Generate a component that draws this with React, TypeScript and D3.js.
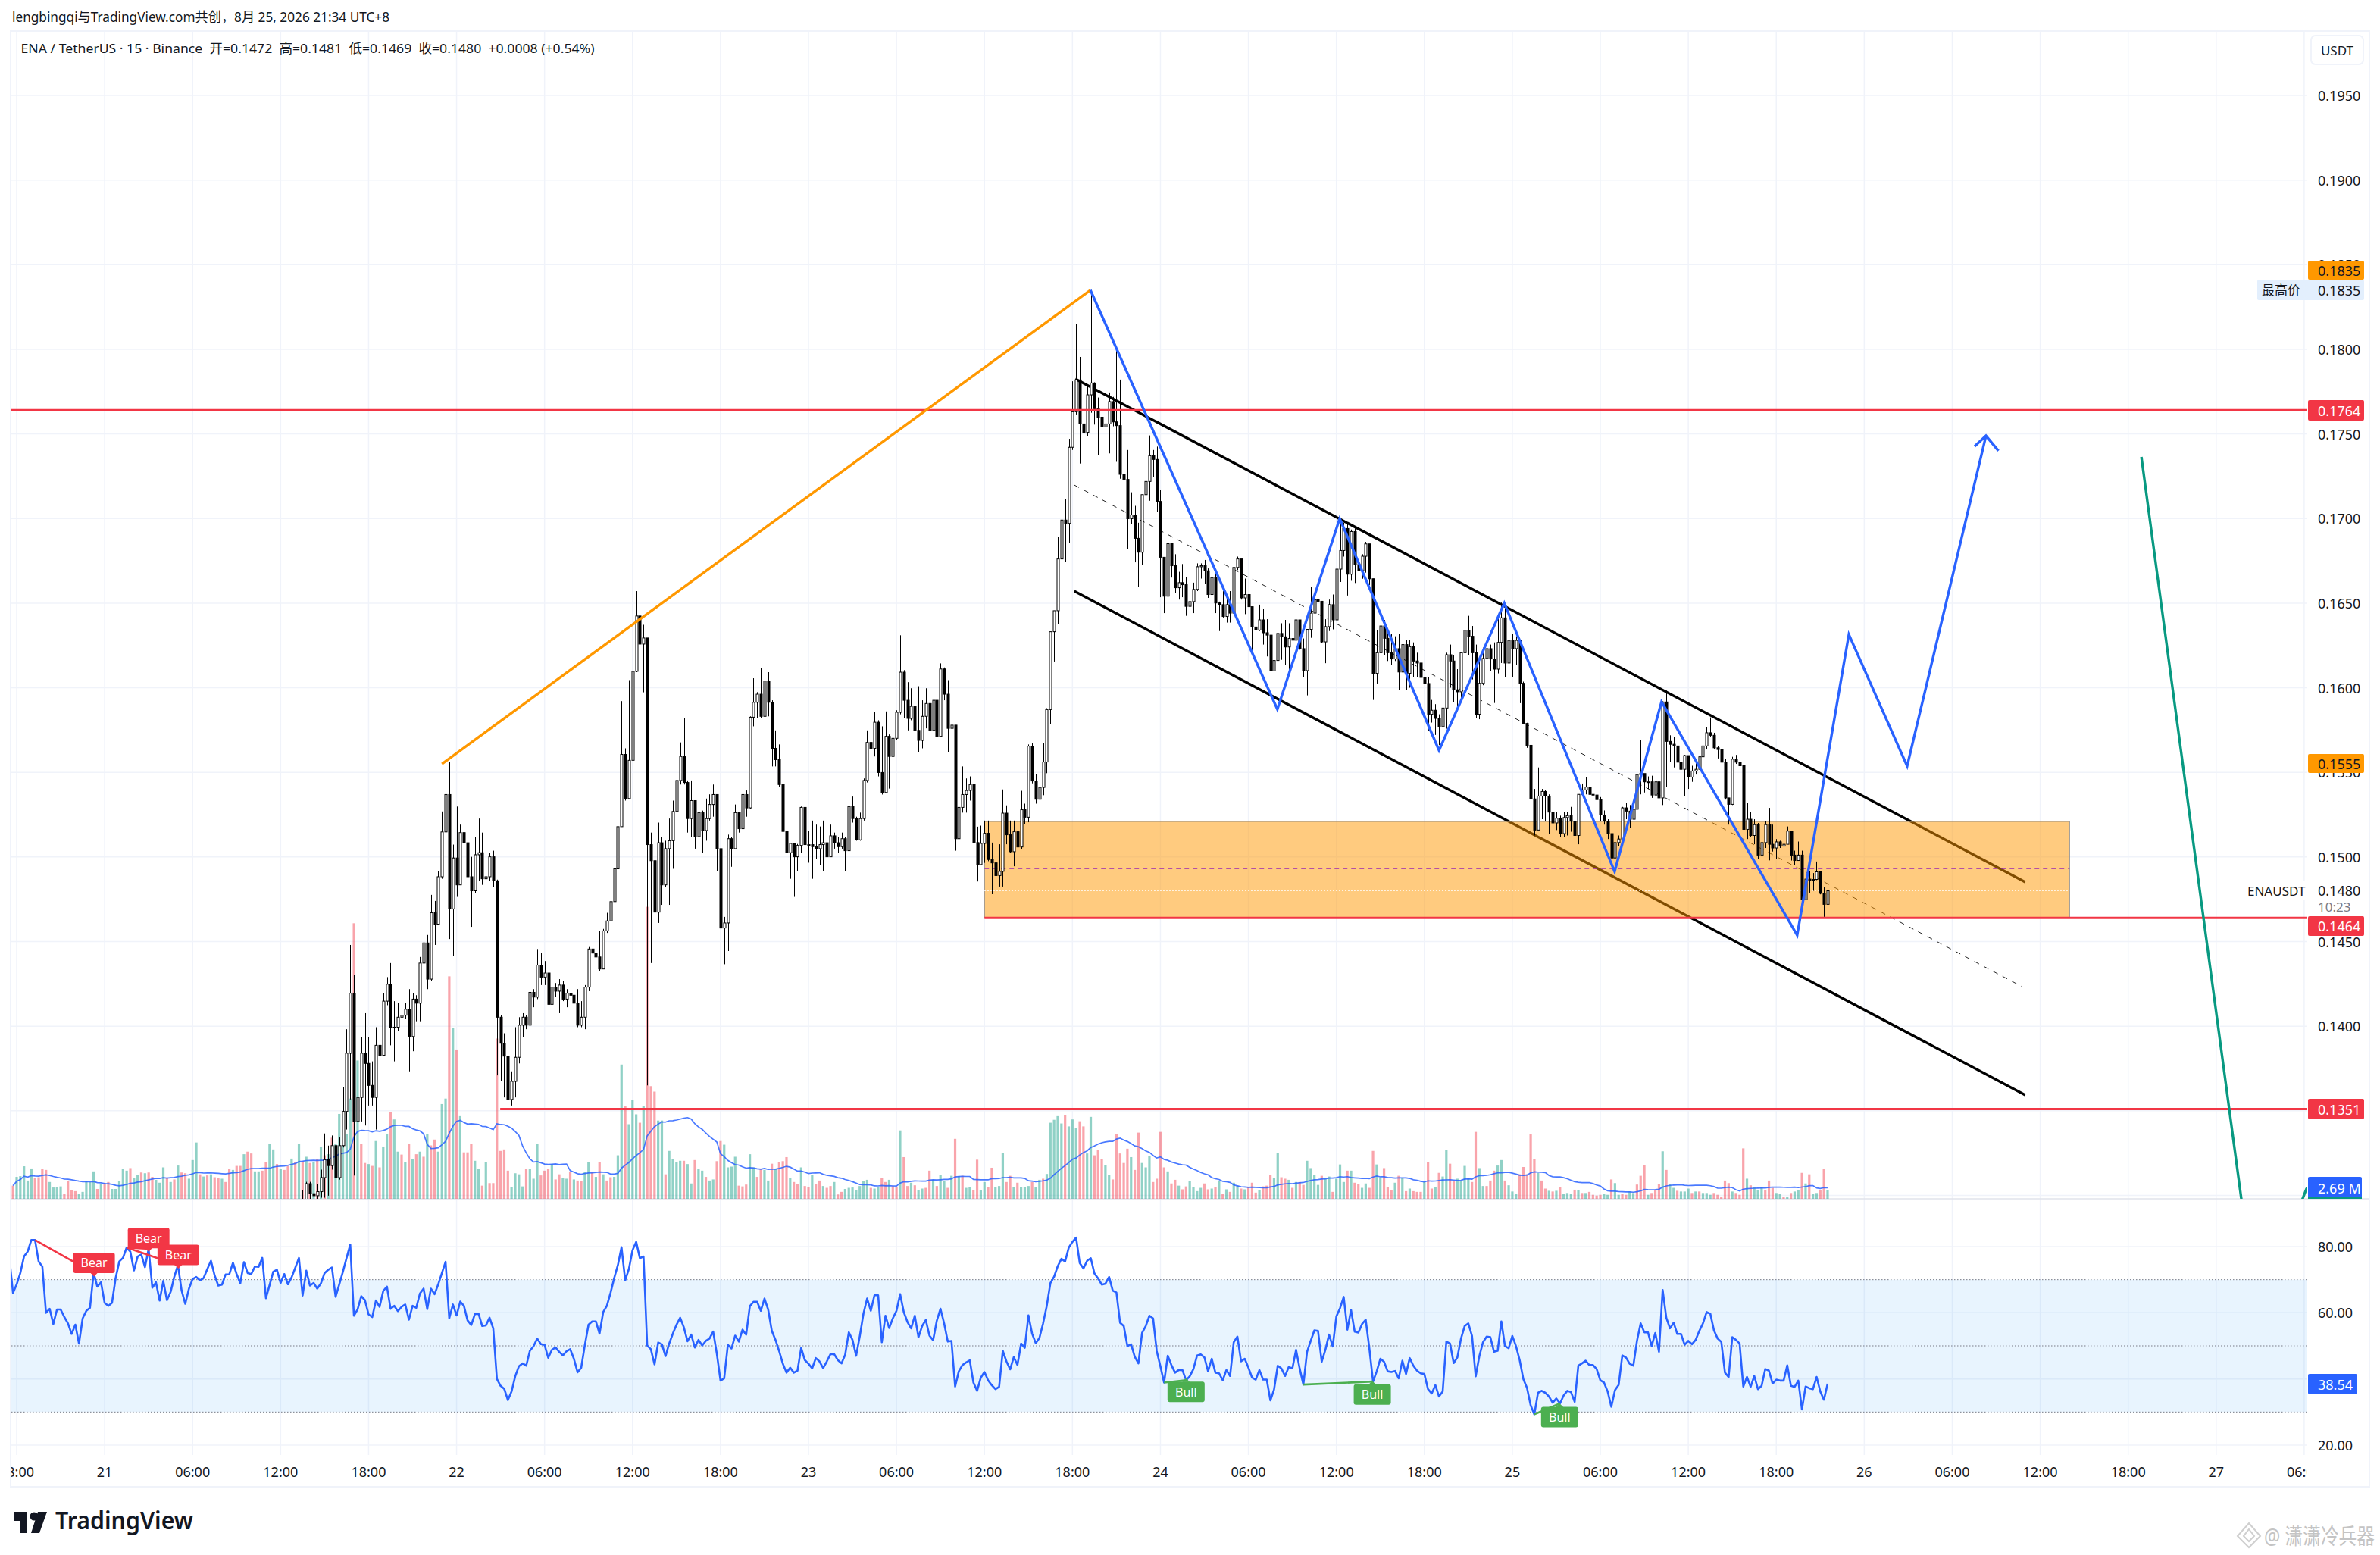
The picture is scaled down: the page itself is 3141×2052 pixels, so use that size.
import React from "react";
import * as d3 from "d3";

// prices are in 1/10000 USDT, bar index 0 is Aug 20 18:00, one bar is 15 minutes
const priceTicks = [1950, 1900, 1850, 1800, 1750, 1700, 1650, 1600, 1550, 1500, 1450, 1400, 1350, 1300];
const priceTickLabels = ["0.1950", "0.1900", "0.1850", "0.1800", "0.1750", "0.1700", "0.1650", "0.1600", "0.1550", "0.1500", "0.1450", "0.1400", "0.1350", ""];
const timeLabels = [
  "18:00", "21", "06:00", "12:00", "18:00", "22", "06:00", "12:00", "18:00", "23", "06:00", "12:00", "18:00",
  "24", "06:00", "12:00", "18:00", "25", "06:00", "12:00", "18:00", "26", "06:00", "12:00", "18:00", "27", "06:00",
];
const rsiTicks = [80, 60, 40, 20];
const rsiBands = [70, 50, 30];

// candles start at bar 78, everything older is under the pane
const firstCandle = 78;
const closes = [
  1297.7, 1306.9, 1301, 1299.8, 1302.2, 1310.5, 1321.1, 1317.6, 1329.4, 1310.5,
  1329.4, 1349.6, 1384, 1419.5, 1343.7, 1357.9, 1384, 1378, 1365, 1357.9,
  1388.7, 1382.8, 1414.8, 1424.8, 1399.4, 1399.4, 1405.3, 1406.5, 1410, 1393.9,
  1416, 1413.6, 1437.3, 1449.2, 1427.8, 1467, 1460.3, 1488.3, 1514.8, 1536.9,
  1469.3, 1499.4, 1483.5, 1514.4, 1508.4, 1488.3, 1480, 1501.3, 1502.5, 1487.1,
  1488.3, 1500.1, 1485.9, 1405.3, 1389.9, 1382.3, 1356.7, 1367.4, 1381.6, 1400.6,
  1405.3, 1400.6, 1420, 1417.2, 1436.1, 1429, 1431.4, 1412.9, 1423.1, 1420.7,
  1424.3, 1416, 1419.5, 1418.3, 1413.6, 1400.6, 1405.3, 1423.1, 1445.6, 1443.2,
  1440.9, 1433.8, 1456.3, 1462.2, 1473.6, 1493, 1517.9, 1560.6, 1534.5, 1557.1,
  1609.7, 1642.4, 1625.8, 1629.4, 1507.3, 1497.8, 1467.4, 1508.4, 1483.5, 1504.9,
  1509.6, 1526.9, 1545.2, 1559.4, 1544, 1522.7, 1533.3, 1512, 1526.2, 1515.6,
  1522.7, 1531, 1536.9, 1504.9, 1458, 1461, 1510.8, 1504.9, 1526.2, 1516.7,
  1536.9, 1529, 1582.6, 1591.4, 1596.2, 1583.1, 1604, 1591.4, 1564.2, 1557.5,
  1542.8, 1515.1, 1502.5, 1508, 1500.1, 1506.8, 1529.3, 1507.3, 1507.3, 1506.1,
  1504.9, 1507.3, 1508.4, 1500.1, 1512.5, 1508.4, 1506.1, 1510.8, 1503.7, 1529.8,
  1522.7, 1510.1, 1522.7, 1545.2, 1567.7, 1564.2, 1579.6, 1549.9, 1538.1, 1571.3,
  1559.4, 1570.1, 1585.5, 1609.2, 1592.6, 1581.9, 1589, 1574.8, 1568.9, 1583.1,
  1590.7, 1574.8, 1592.6, 1571.3, 1611.1, 1596.2, 1576, 1577.9, 1510.8, 1529.3,
  1536.9, 1539.3, 1542.8, 1508.5, 1495.5, 1508, 1514, 1498.5, 1496.5, 1489,
  1491.5, 1525.9, 1513.1, 1503.1, 1514.9, 1505.9, 1527.9, 1523.5, 1565.5, 1544.9,
  1534.1, 1541.1, 1556.1, 1587.1, 1633.1, 1645.5, 1676.1, 1699.1, 1697.1, 1742.1,
  1763.1, 1781.9, 1755.9, 1750.9, 1773.1, 1780.1, 1764.9, 1759.9, 1754.1, 1755.9,
  1769.1, 1757.1, 1754.9, 1726.1, 1723.1, 1699.9, 1702.1, 1688.3, 1680.1, 1714.1,
  1721.9, 1737.1, 1734.9, 1710.1, 1677.1, 1654.1, 1685.1, 1672.1, 1659.1, 1662.1,
  1660.9, 1648.1, 1650.9, 1658.1, 1671.5, 1672.1, 1669.1, 1655.1, 1665.1, 1650.1,
  1649.1, 1642.1, 1649.1, 1644.1, 1671.1, 1676.1, 1653.1, 1655.1, 1647.9, 1635.9,
  1634.1, 1640.1, 1632.5, 1631.1, 1609.9, 1616.1, 1632.1, 1630.1, 1624.1, 1629.1,
  1628.1, 1640.1, 1623.1, 1610.1, 1634.5, 1644.1, 1652.1, 1651.1, 1627.1, 1636.1,
  1649.1, 1640.1, 1670.1, 1681.1, 1694.1, 1667.1, 1692.3, 1672.9, 1669.2, 1677.7,
  1685, 1664.4, 1608.5, 1620.7, 1636.5, 1629.2, 1620.7, 1617, 1623.1, 1609.3,
  1625.5, 1608.5, 1624.3, 1615.8, 1614.6, 1606.1, 1602.5, 1584.3, 1586.7, 1581.9,
  1577, 1588, 1619.5, 1615.8, 1598.8, 1597.6, 1620.7, 1634, 1630.4, 1620.7,
  1584.3, 1602.6, 1617.3, 1623.1, 1617, 1611, 1626.8, 1641.3, 1614.6, 1628,
  1623.1, 1628, 1602.6, 1578.9, 1566, 1534.3, 1515.9, 1536, 1538.7, 1536,
  1526.5, 1520.1, 1522.9, 1513.8, 1523.3, 1524.4, 1521.2, 1512.7, 1537, 1539.6,
  1541.3, 1537, 1536.6, 1533.9, 1524.8, 1521.2, 1513.8, 1499.4, 1508.5, 1510.6,
  1529, 1527.1, 1522.3, 1528.2, 1548.7, 1549.3, 1544.4, 1544.4, 1536.6, 1544.4,
  1534.9, 1591.6, 1568.3, 1566.6, 1565.6, 1556, 1551.8, 1559.9, 1547.2, 1550.8,
  1551.8, 1559.2, 1565.6, 1573.4, 1571.9, 1564.5, 1563.5, 1556, 1534.9, 1531.1,
  1557.8, 1556, 1553.9, 1516.3, 1522.3, 1512.7, 1519.1, 1501.1, 1508.5, 1519.1,
  1507.5, 1505.3, 1508.9, 1506.4, 1507.5, 1515.3, 1501.1, 1497.9, 1501.1, 1474.7,
  1486.9, 1486.3, 1486.7, 1491.2, 1478.5, 1472, 1480,
];
const highs = [
  1303.3, 1308, 1308, 1303.4, 1306.9, 1315.2, 1336.6, 1329.4, 1335.4, 1348.4,
  1334.2, 1363.8, 1398.2, 1448, 1430.2, 1360.3, 1393.4, 1407.7, 1393.4, 1379.2,
  1399.4, 1400.6, 1419.5, 1429, 1437.3, 1414.8, 1413.6, 1413.6, 1413.6, 1421.9,
  1419.5, 1418.3, 1440.9, 1453.9, 1453.9, 1477.6, 1474, 1491.8, 1526.9, 1548.3,
  1555.9, 1507.3, 1529.8, 1519.1, 1522.7, 1508.4, 1500.1, 1512, 1522.7, 1514.4,
  1500.1, 1502.5, 1503.7, 1486.6, 1406.5, 1395.8, 1387.5, 1373.3, 1399.4, 1405.3,
  1407.7, 1406.5, 1426.6, 1421.9, 1445.6, 1443.2, 1438.5, 1439.7, 1430.2, 1425.5,
  1427.8, 1426.6, 1421.9, 1434.9, 1420.7, 1421.9, 1414.8, 1424.3, 1446.8, 1446.8,
  1457.5, 1456.3, 1457.5, 1467, 1478.8, 1498.9, 1519.1, 1592.1, 1564.2, 1604.5,
  1619.9, 1657.1, 1650.7, 1637.2, 1628.2, 1514.4, 1520.3, 1520.3, 1512, 1509.6,
  1522.7, 1533.3, 1568.9, 1567.7, 1581.9, 1545.2, 1545.2, 1533.3, 1538.1, 1527.4,
  1534.5, 1537, 1542.8, 1536.9, 1504.9, 1464.6, 1513.2, 1512, 1531, 1526.2,
  1540.4, 1539.3, 1583.1, 1605.6, 1597.4, 1611.6, 1612, 1609.2, 1592.6, 1574.8,
  1566.5, 1542.8, 1515.6, 1508.4, 1506.8, 1507.7, 1529.8, 1533.3, 1515.6, 1521.5,
  1519.1, 1518, 1521.5, 1514.4, 1519.1, 1514.4, 1512, 1514.4, 1512, 1536.9,
  1535.7, 1523.8, 1526.2, 1546.4, 1574.8, 1584.3, 1585.5, 1580.8, 1577.2, 1586,
  1572.4, 1583.1, 1586.7, 1631, 1610.4, 1603.3, 1599.7, 1598.5, 1600.9, 1592.6,
  1599.7, 1593.8, 1595, 1593.8, 1614.4, 1612, 1604.5, 1583.1, 1577.9, 1529.8,
  1553.5, 1546.4, 1547.6, 1547.5, 1517.9, 1518.5, 1521.5, 1521.5, 1508.5, 1498,
  1507.5, 1539.9, 1530.5, 1521.5, 1521.5, 1530.5, 1539.1, 1531.5, 1566.5, 1567.1,
  1549.1, 1545.1, 1567.1, 1587.9, 1633.1, 1645.5, 1689.1, 1703.9, 1711.5, 1747.1,
  1781.1, 1814.9, 1795.5, 1761.5, 1778.5, 1835, 1780.5, 1771.5, 1774.5, 1783.5,
  1774.5, 1771.9, 1800.3, 1782.1, 1745.1, 1740.5, 1715.5, 1707.5, 1697.5, 1714.1,
  1733.9, 1749.1, 1740.5, 1742.5, 1717.1, 1676.1, 1692.1, 1685.5, 1678.9, 1668.5,
  1673.1, 1665.5, 1660.1, 1662.1, 1673.5, 1673.5, 1675.5, 1670.5, 1669.5, 1668.5,
  1650.9, 1657.1, 1654.5, 1657.1, 1671.1, 1677.5, 1675.5, 1664.5, 1662.5, 1647.1,
  1641.9, 1649.1, 1646.5, 1640.5, 1637.1, 1621.9, 1632.1, 1638.1, 1640.1, 1638.1,
  1633.5, 1642.5, 1640.1, 1629.1, 1634.5, 1659.5, 1662.5, 1655.1, 1650.1, 1640.5,
  1652.1, 1655.1, 1674.1, 1698.5, 1697.5, 1697.5, 1693.5, 1694.2, 1680.2, 1678.9,
  1686.2, 1683.8, 1664.4, 1634, 1641.3, 1640.1, 1634, 1631.6, 1630.4, 1631.6,
  1634, 1628, 1628, 1626.8, 1620.7, 1615.8, 1611, 1606.1, 1592.8, 1590.3,
  1584.3, 1590.3, 1620.7, 1625.5, 1619.5, 1611, 1620.7, 1640.1, 1642.5, 1636.5,
  1625.5, 1615.2, 1623.7, 1628, 1625.5, 1626.8, 1641.3, 1650.3, 1649.8, 1641.3,
  1631.6, 1630.4, 1621.9, 1603.6, 1579.3, 1573, 1540.2, 1552.9, 1540.2, 1539.6,
  1537, 1531.8, 1526.5, 1524.4, 1526.5, 1526.5, 1529.6, 1527.5, 1537, 1543.4,
  1547.2, 1544.4, 1544.4, 1537.5, 1535.4, 1527.5, 1522.3, 1518, 1509.6, 1512.7,
  1529.6, 1531.8, 1530.7, 1531.8, 1563.5, 1569.2, 1548.7, 1547.6, 1548, 1548,
  1547.6, 1592, 1598.3, 1571.9, 1570.9, 1566.6, 1560.3, 1560.3, 1552.9, 1553.9,
  1556, 1559.2, 1567.7, 1576.8, 1582.5, 1573.4, 1565.6, 1559.2, 1557.8, 1534.9,
  1559.2, 1560.3, 1566.2, 1555, 1531.8, 1526.5, 1522.3, 1520.1, 1512.7, 1521.2,
  1529, 1519.1, 1510.6, 1509.6, 1509.6, 1518, 1515.5, 1503.7, 1509.1, 1503.7,
  1492.7, 1491.6, 1490.5, 1497.3, 1491.6, 1482, 1481,
];
const lows = [
  1296.3, 1296, 1296, 1296, 1296, 1298.6, 1298.6, 1299.8, 1315.2, 1301,
  1309.3, 1328.3, 1338.9, 1356.7, 1311.7, 1338.9, 1343.7, 1341.3, 1353.1, 1353.1,
  1338.9, 1381.6, 1382.8, 1412.4, 1388.7, 1379.2, 1397, 1389.9, 1404.1, 1373.3,
  1385.2, 1402.9, 1402.9, 1436.1, 1421.9, 1426.6, 1448, 1459.8, 1487.1, 1514.4,
  1451.5, 1441.6, 1476.4, 1483.5, 1500.1, 1476.4, 1458.7, 1478.8, 1485.9, 1483.5,
  1468.1, 1485.9, 1482.4, 1370.9, 1367.4, 1357.9, 1350.8, 1353.1, 1357.9, 1378,
  1393.5, 1398.2, 1401.8, 1411.2, 1416, 1424.3, 1424.3, 1410, 1391.6, 1417.2,
  1407.7, 1414.8, 1411.2, 1406.5, 1405.3, 1399.4, 1399.4, 1398.2, 1420.7, 1431.4,
  1438.5, 1432.6, 1434.9, 1455.1, 1461, 1482.4, 1491.8, 1517.9, 1533.3, 1534.5,
  1557.1, 1609.2, 1602.1, 1597.3, 1365, 1437.3, 1452.7, 1461, 1471.7, 1482.4,
  1471.7, 1493, 1525, 1542.8, 1542.8, 1514.4, 1512, 1504.9, 1490.7, 1502.5,
  1509.6, 1521.5, 1523.8, 1491.8, 1452.7, 1436.6, 1444.4, 1494.2, 1504.9, 1514.4,
  1515.6, 1523.8, 1528.6, 1577.2, 1581.9, 1581.9, 1583.1, 1583.1, 1553.5, 1553.5,
  1541.6, 1514.4, 1495.4, 1487.1, 1476.4, 1491.8, 1502.5, 1506.1, 1496.6, 1487.1,
  1499, 1495.4, 1491.8, 1499, 1503.7, 1504.9, 1502.5, 1504.9, 1491.8, 1509.6,
  1520.3, 1509.6, 1509.6, 1521.5, 1544, 1546.4, 1559.4, 1547.6, 1536.9, 1538.1,
  1540.4, 1558.2, 1568.9, 1584.3, 1581.9, 1574.8, 1580.8, 1573.6, 1561.8, 1564.2,
  1576, 1547.6, 1571.3, 1566.5, 1589, 1592.6, 1561.8, 1574.8, 1503.7, 1512,
  1526.2, 1526.2, 1533.3, 1508, 1485.5, 1495.5, 1496.5, 1497.5, 1478, 1482.5,
  1482.5, 1482.5, 1507.5, 1502.5, 1494.5, 1502.5, 1504.5, 1519.5, 1520.5, 1543.5,
  1531.5, 1526.5, 1536.5, 1549.5, 1578.5, 1615.5, 1637.5, 1656.5, 1674.5, 1685.5,
  1740.5, 1761.5, 1732.5, 1709.5, 1748.5, 1762.5, 1755.5, 1737.5, 1736.5, 1751.5,
  1738.5, 1754.5, 1733.5, 1723.5, 1712.5, 1682.1, 1696.9, 1674.1, 1659.5, 1672.5,
  1706.5, 1710.5, 1724.5, 1704.1, 1653.5, 1644.1, 1652.1, 1665.1, 1656.1, 1652.1,
  1653.5, 1642.5, 1633.5, 1644.1, 1657.1, 1664.5, 1661.5, 1653.1, 1650.5, 1644.1,
  1633.5, 1641.5, 1638.5, 1638.5, 1643.5, 1669.5, 1652.1, 1643.5, 1642.5, 1620.5,
  1632.5, 1633.5, 1625.5, 1618.5, 1600.5, 1607.5, 1588.5, 1616.5, 1613.5, 1610.5,
  1618.5, 1623.5, 1622.5, 1606.5, 1595.5, 1629.5, 1643.5, 1642.5, 1626.5, 1614.5,
  1633.5, 1634.5, 1639.5, 1662.5, 1677.5, 1654.5, 1663.2, 1661.9, 1655.9, 1664.4,
  1668, 1660.7, 1592.8, 1602.5, 1620.7, 1619.5, 1615.8, 1613.4, 1615.8, 1598.8,
  1608.5, 1598.8, 1600, 1606.1, 1606.1, 1604.9, 1596.4, 1574.6, 1579.4, 1572.1,
  1566.1, 1571, 1575.8, 1600, 1591.6, 1588, 1594, 1620.7, 1619.5, 1604.9,
  1581.9, 1581.4, 1601.5, 1611, 1610, 1591, 1608.5, 1614.6, 1606.1, 1612.2,
  1606.1, 1613.4, 1590.9, 1578.3, 1564.5, 1533.9, 1512.7, 1517, 1522.3, 1521.2,
  1513.8, 1507.5, 1515.9, 1511.7, 1511.7, 1512.7, 1514.9, 1504.3, 1507.5, 1536,
  1537, 1536, 1535.4, 1531.8, 1521.2, 1519.1, 1510.6, 1497.9, 1496.9, 1506.4,
  1509.6, 1522.3, 1517, 1518, 1521.2, 1537, 1538.1, 1540.2, 1534.9, 1534.9,
  1529.6, 1530.7, 1541.3, 1556, 1552.9, 1547.6, 1542.3, 1536, 1540.2, 1544.4,
  1548.7, 1550.8, 1559.2, 1563.5, 1570.9, 1563.5, 1558.2, 1555, 1533.9, 1519.1,
  1530.7, 1555, 1544.4, 1515.9, 1510.6, 1511.7, 1507.5, 1499, 1496.9, 1505.3,
  1498, 1503.2, 1499, 1505.3, 1506.4, 1507.9, 1497.9, 1495.2, 1497.9, 1473.6,
  1469.4, 1478.9, 1480, 1486.3, 1477.9, 1464.6, 1469,
];

// volume in millions, starts at bar -1, negative means a falling bar
const firstVolume = -1;
const volumes = [
  -3.8, 6.2, 6.4, 9.1, 5.2, 8.5, -5.9, -6.1, -8.3, -8.1, 4.8, 3.3, 3.4, 3.6, -1.5, -5, -2.6, -2.3, 1.5, 2.1,
  5, 4.8, 7.7, -2.9, 4.3, -4.5, -4.8, 2.9, 2.9, 5, 8.3, 7.9, -8.6, 5.9, 6.7, -7.4, 7.2, -7.4, -6.2, 5.4,
  4.6, 8.8, -5.9, 4.8, -5.5, 9.3, -7.4, -7.2, 5.7, 10.8, 15.6, -6.9, 6.3, -6.6, 6.9, -6.1, -6, 5.7, -4.8, -8.3,
  8.1, -9.2, -9.2, 12.4, -13.1, -12.6, 7.7, 7.7, -7.9, -10.2, 15.3, 13.7, -9.7, 8.3, -8.1, -9.2, 11.2, -10.3, 15.3, -10.5,
  11.7, -10, 10.3, -11, 14.5, -12.1, 12.4, -16.9, 15.2, 23.4, 19.3, 17.9, 27.6, -75.5, 38, -15.2, -10, 9.7, -9.2, 16,
  -8.8, 14.5, 17.9, -23.9, 21.9, 13.1, -12.3, 10.3, -15.3, 11, -12.4, 13.1, -11.7, 17.9, -14.8, -16.4, 13.1, 26.1, 27.6, -61,
  47, -41, 22.8, -12.9, -12.9, -15.2, 10.6, 8.3, -3.8, 10.3, -4.5, -4.5, -44, -13.3, -13.7, -7.9, 3.4, 7.2, 6.9, 3.6,
  -8.3, 8.3, 5.7, 15.3, -6.6, -7.9, -8.3, 9.7, -5.5, -6.9, 5.9, 5.7, -7.6, 5.5, -5.2, -5, 7.6, 10.2, -7.4, 6.2,
  -10.2, 6.9, -5.2, -6.1, 6.2, 12.1, 36.9, -25.5, 20.6, 27.2, 23.3, -21, 25.5, -80, -31, -29.5, 21.6, 21.6, -6.9, 13.3,
  11, 10.2, 10.6, -10.6, 9.7, 4.4, -10.8, 8.3, 7.9, -6.2, 5.2, 5.5, -10.5, -16, 15, 8.8, 9, 11.7, -3.8, -3.6,
  -4.1, 12.4, 8.8, -6.2, -8.3, 8.1, 5.2, -9.8, 8.3, -10.3, -10.5, -11.6, 5.9, -4.8, -4.3, 8.8, -3.7, -3.5, 6.8, -4.3,
  -5.2, 3.7, -3.2, -3.7, 4.8, -1.4, -2.1, 2.9, 3.2, 3.3, 2.6, 3.7, 5, 5.4, -3.2, 3, 3.5, -5.9, -4.8, 5.4,
  -3.7, -3.5, 18.9, -11.6, -3.7, 4.6, -3.9, 2.6, 3, -3.2, -7.9, 5.4, -3.7, 6.8, 5, -3.2, 6.5, -16.6, 6.4, -6.5,
  3.2, 3.5, -2.6, -10.9, 2.6, 4.8, -3.5, -8.7, 3.5, 3.7, 12.8, -4.8, -6.5, 3.5, -4.6, 3.4, 3.5, 3.7, -4.8, 3.4,
  5.4, -5.7, 7, 21, 21.8, 22.8, 20.8, -23, 20, 21.9, 19.5, -21.4, -20, 12.6, 22.6, -12.1, -13.6, -11, 9.4, 6.7,
  -5.5, -17.9, -12.6, -10, -13.9, 11.6, -8.1, -18.3, 10, 8.8, 11.9, -4.8, -5.7, -18.5, -8.8, 7.7, -4.4, -5.4, 3.8, -2.8,
  -3.6, 5, 3.4, 2.3, 3.2, -4.4, -2.8, 3, -3.4, 5, -1.5, 2.8, -2.1, 4.6, 3.8, -3, 2.8, -3.4, -4.6, -1.9,
  2.6, -3.6, -3.8, -6.7, 5.9, 12.7, -6.1, -5.7, 5.4, -3.2, 4.8, -4.8, -4, 10.6, 8.6, 6.7, 4, -6.5, 5.7, 6.3,
  -2.1, 5.7, 9.6, 4.8, -7.9, 7.9, -4.6, -4.2, 3.2, 4.4, -3.2, -13.3, 9.6, 6.1, -8.6, -3.4, -2.6, 4.6, -6.5, 5.9,
  -2.3, 3, -2.3, -2.1, -2.1, 4.8, -10.2, -3, 3.4, -7.3, 6.3, 13.5, -9.8, -5, 5.7, 5, 9.2, 5.9, -4.8, -18.5,
  8.6, 3.7, -3.7, -5.2, -7.9, 9.3, 10.8, -5.2, 3.9, 2.2, 1.5, -6.9, -8.9, -6.9, -17.8, -11, 7.3, -5.2, -3, 2.4,
  -2.2, 2.4, -3.5, 1.5, 1.8, 1.5, -2.7, 2.5, -1.8, 1.8, -2.1, -1.3, -1.1, -1.3, 1.5, 1.3, -5.5, 4.5, 1.3, -1.5,
  -1.3, 2.2, 1.8, -4.1, -6.5, -9.4, 1.3, -1.8, -2.7, -4.2, 13.2, -8.1, 4.2, 3.2, -2.4, 2.2, 2.2, 3, -1.8, 2.2,
  -2.2, 1.8, 1.8, 1.3, -1.8, -1.3, -0.8, -5.2, -4.5, 2.2, -1.8, -1.3, -14, 5.7, -3.9, 3.4, 2.7, 3.4, -2.7, -5.2,
  -3.2, 1.8, 1.5, -0.8, 0.8, -1.8, 2.2, 2.7, -7.3, 4.4, -6.9, 1.6, 1.8, -2.7, -8.3, 2.69,
];

// RSI starts at bar -2
const firstRsi = -2;
const rsiValues = [
  76.6, 66, 68.6, 72, 77, 78.5, 82, 82, 75.5, 74, 60, 61.2, 56.6, 61, 61, 58.7, 56.8, 53.6, 56.4, 50.7,
  58.3, 60.6, 61.5, 72, 67.9, 69.2, 63, 62.1, 63, 70.5, 75.5, 76.6, 79.7, 78.5, 72.8, 77, 77.6, 73.8, 79.3, 67.6,
  69.2, 63.7, 69.6, 63.8, 66.3, 70.9, 74.4, 66.7, 62.7, 67.3, 70.2, 70.8, 69.8, 70.5, 73.2, 75.7, 71.3, 68.2, 68.5, 71.6,
  71.6, 75.1, 71.7, 68.9, 75.3, 72, 71.7, 74, 73.9, 76.6, 64.4, 68.4, 72.4, 73, 69, 71.7, 68.6, 70.7, 73.6, 76.6,
  65.2, 72.7, 68.2, 69, 67.3, 68.9, 72, 73, 73.7, 64.8, 68.6, 72.4, 76.6, 80.6, 59.1, 61, 65, 63.8, 59.5, 58.7,
  63.7, 61.8, 66.6, 67.9, 61.2, 62.1, 60.5, 61.8, 62.5, 57.9, 62.1, 61.5, 65.8, 67.3, 61.1, 67.3, 65.6, 68.6, 72, 75.4,
  58.3, 62.5, 59.2, 63.4, 62.1, 57.7, 56.3, 59.6, 59.7, 56, 56.2, 58.5, 55.3, 40, 37.9, 37, 33.6, 36.2, 40.8, 43.8,
  44.7, 44, 48.5, 49.9, 52.2, 50.5, 50.3, 46.4, 48.8, 49.5, 48.2, 47.1, 48.4, 49, 46.1, 42, 43.4, 50.3, 56.4, 57.4,
  57.4, 53.7, 60.2, 62.1, 66, 70.5, 74.4, 79.8, 69.8, 73.2, 78.9, 81.4, 76.5, 77, 50.1, 49, 44.4, 51, 50.5, 46.9,
  50.7, 53.7, 56.4, 58.5, 55.6, 51.4, 53.4, 49.5, 51.8, 50.1, 51.5, 52.2, 54.3, 47.6, 39.5, 40.2, 50.3, 49.2, 53.1, 51.3,
  54.9, 53.4, 62, 63.3, 63.3, 60.6, 64.3, 61, 54.5, 51.8, 48.4, 44.6, 41.9, 43.4, 41.9, 42.5, 49.4, 45.7, 44.6, 43.2,
  46.3, 45.3, 43.3, 45.3, 47.5, 47.5, 45.7, 44.7, 47.3, 54.1, 51.8, 47, 53, 59.8, 64.3, 60.6, 65.3, 65.3, 51.1, 59.1,
  55.4, 58.3, 60.6, 65.6, 60.2, 57.2, 55.3, 59.1, 52.6, 56, 57.8, 53.1, 51.7, 57.6, 61.2, 56.8, 51.3, 51.5, 37.7, 42.3,
  44.2, 45, 45.6, 38.9, 36.4, 40.4, 42.1, 39.6, 38.1, 36.9, 37.6, 48.5, 45.3, 42.9, 46.6, 44.2, 50.7, 49.4, 59.2, 53.7,
  50.8, 52.4, 56.8, 62.1, 69, 70.9, 74.1, 76.3, 75.5, 79.7, 81.4, 82.7, 75, 73.4, 75.7, 76.5, 71.9, 70.4, 68.5, 68.8,
  70.8, 66.7, 66.1, 57, 56, 49.9, 50.5, 46.7, 44.7, 53.9, 56, 59.1, 58.3, 48.4, 43.8, 38.9, 47, 44.2, 41.9, 42.7,
  42.7, 39.6, 40.8, 43, 47.1, 47.4, 46.5, 42.3, 46.1, 41.9, 41.7, 39.6, 42.7, 40.9, 51.1, 52.8, 45.3, 46.1, 43.4, 40.4,
  39.8, 42.7, 39.8, 39.8, 33.5, 36.8, 44, 43.2, 40.9, 43.6, 43.2, 48.8, 43.1, 38.3, 48.2, 51.5, 54.7, 54.5, 45.2, 48.8,
  53.4, 49.8, 58.9, 61.4, 64.8, 54.9, 60.8, 54.3, 54, 56.6, 57.9, 49.2, 39.2, 42.3, 46.1, 45.2, 42.3, 42.1, 42.4, 40.2,
  45.5, 41.5, 46.3, 44, 42.5, 41.7, 41.5, 36.9, 35.6, 38.1, 34.7, 36.2, 51.3, 50.7, 44.8, 46.5, 52.2, 56, 56.8, 53,
  40.8, 46.9, 51.1, 52.8, 52.6, 48.2, 48.5, 57.4, 49.9, 49.3, 53, 49.9, 45.7, 40, 37.3, 32, 29.3, 35.8, 36.4, 35.8,
  34.7, 32.8, 34.1, 32.6, 35, 36.4, 36, 33.1, 44, 44.7, 45.5, 44.2, 44.2, 43, 39.6, 38.9, 36.2, 31.6, 36.6, 38.2,
  47.1, 46.5, 44.6, 44, 51.5, 56.8, 54.1, 54.1, 49.9, 53.9, 48.2, 66.9, 58.5, 55.3, 57, 53.6, 53.6, 50.3, 51.5, 50.5,
  51.8, 54.5, 56.8, 60.2, 59.7, 54.7, 52.2, 51.2, 41.9, 40.6, 52.6, 51.8, 50.7, 37.7, 40.6, 37.6, 40.9, 36.9, 37.9, 43,
  42.5, 38.6, 39.8, 39.5, 39.5, 44.1, 37.9, 37.6, 39.5, 30.8, 37.7, 37.2, 36.9, 40.6, 36.2, 33.7, 38.54,
];

// drawings, as [bar, price]
const orangeLeg = [[116, 1555], [292.9, 1835]];
const blueLegs = [
  [292.9, 1835], [343.9, 1587.3], [360.9, 1700], [388, 1563], [405.8, 1650], [435.9, 1491.4],
  [448.7, 1591.7], [485.7, 1453.8], [499.8, 1631.5], [515.7, 1553.7], [537.2, 1748.9],
];
const blueArrowHead = [[534.1, 1742.7], [537.2, 1748.9], [540.6, 1740]];
const greenLeg = [[579.6, 1736.4], [611.2, 1228.1], [624.6, 1303.8], [630, 1320]];
const channelUpper = [[288.8, 1782.5], [547.9, 1485.2]];
const channelLower = [[288.5, 1657.1], [547.9, 1359.3]];
const channelMid = [[288.5, 1719.8], [547, 1423.4]];
const zoneBars = [264, 560];
const zonePrices = [1521, 1464];
const zoneMidPrice = 1493.2;
const lastPrice = 1480;
const redLevels = [
  { price: 1764, from: -3 },
  { price: 1464, from: 264 },
  { price: 1351, from: 131.9 },
];

const priceBadges = [
  { top: 344, bottom: 369, fill: "#ff9800", color: "#131722", text: "0.1835" },
  { top: 528, bottom: 555, fill: "#f23645", color: "#fff", text: "0.1764" },
  { top: 995, bottom: 1020, fill: "#ff9800", color: "#131722", text: "0.1555" },
  { top: 1450, bottom: 1477, fill: "#f23645", color: "#fff", text: "0.1351" },
];

const divergences = [
  { text: "Bear", bar: 21.1, rsi: 75.1, line: [[5, 82], [21, 72]] },
  { text: "Bear", bar: 36, rsi: 82.6, line: [[30, 79.7], [36, 79.3]] },
  { text: "Bear", bar: 44.1, rsi: 77.5, line: [[30, 79.7], [44, 74.4]] },
  { text: "Bull", bar: 319, rsi: 36.1, line: [[313, 38.9], [319, 39.6]] },
  { text: "Bull", bar: 369.8, rsi: 35.3, line: [[351, 38.3], [370, 39.2]] },
  { text: "Bull", bar: 420.9, rsi: 28.5, line: [[414, 29.3], [421, 32.6]] },
];

const W = 3141;
const H = 2052;
const LEFT = 15;
const RIGHT = 3044;
const TOP = 41;
const PANE_BOTTOM = 1582;
const RSI_BOTTOM = 1920;
const FRAME_BOTTOM = 1962;
const AXIS_TEXT_X = 3059;

const FONT = "'Noto Sans', 'Noto Sans CJK SC', sans-serif";
const TEXT = "#131722";
const GRID = "#f0f3fa";
const RED = "#f23645";
const BLUE = "#2962ff";

const x = d3.scaleLinear().domain([0, 600]).range([22, 22 + 600 * 4.838]);
const y = d3.scaleLinear().domain([1950, 1300]).range([126, 126 + 650 * 2.233]);
const yVol = d3.scaleLinear().domain([0, 80]).range([1583, 1583 - 80 * 4.83]);
const yRsi = d3.scaleLinear().domain([80, 20]).range([1645, 1907]);

const priceLine = d3.line<number[]>().x((d) => x(d[0])).y((d) => y(d[1]));
const rsiSegment = d3.line<number[]>().x((d) => x(d[0])).y((d) => yRsi(d[1]));

const rsiPath = d3.line<number>()
  .x((_, i) => x(i + firstRsi))
  .y((d) => yRsi(d))(rsiValues) as string;

// 20 bar average of the volume bars
const volAbs = volumes.map((v) => Math.abs(v));
const volMa = volAbs.map((_, i) => d3.mean(volAbs.slice(Math.max(0, i - 19), i + 1)) as number);
const volMaPath = d3.line<number>()
  .x((_, i) => x(i + firstVolume))
  .y((d) => yVol(d))(volMa) as string;

export default function App() {
  return (
    <svg
      width={W}
      height={H}
      viewBox={`0 0 ${W} ${H}`}
      style={{ position: "absolute", left: 0, top: 0, display: "block", background: "#fff" }}
      fontFamily={FONT}
    >
      <defs>
        <clipPath id="main"><rect x={LEFT} y={TOP} width={RIGHT - LEFT} height={PANE_BOTTOM - TOP} /></clipPath>
        <clipPath id="rsi"><rect x={LEFT} y={PANE_BOTTOM} width={RIGHT - LEFT} height={RSI_BOTTOM - PANE_BOTTOM} /></clipPath>
        <clipPath id="time"><rect x={LEFT} y={RSI_BOTTOM} width={RIGHT - LEFT} height={FRAME_BOTTOM - RSI_BOTTOM} /></clipPath>
      </defs>

      <text x={16} y={29} fontSize={18} fill={TEXT} textLength={498} lengthAdjust="spacingAndGlyphs">
        lengbingqi与TradingView.com共创，8月 25, 2026 21:34 UTC+8
      </text>

      {/* frame and grid */}
      <rect x={LEFT - 1} y={TOP} width={3127 - LEFT + 1} height={FRAME_BOTTOM - TOP} fill="none" stroke={GRID} strokeWidth={2} />
      {timeLabels.map((_, i) => (
        <line key={i} x1={x(i * 24)} x2={x(i * 24)} y1={TOP} y2={RSI_BOTTOM} stroke={GRID} strokeWidth={1.5} />
      ))}
      {priceTicks.map((p) => (
        <line key={p} x1={LEFT} x2={RIGHT} y1={y(p)} y2={y(p)} stroke={GRID} strokeWidth={1.5} />
      ))}
      {rsiTicks.map((t) => (
        <line key={t} x1={LEFT} x2={RIGHT} y1={yRsi(t)} y2={yRsi(t)} stroke={GRID} strokeWidth={1.5} />
      ))}
      <line x1={LEFT} x2={3127} y1={PANE_BOTTOM} y2={PANE_BOTTOM} stroke="#e0e3eb" strokeWidth={1.5} />

      {/* main pane */}
      <g clipPath="url(#main)">
        {volumes.map((v, i) => (
          <rect
            key={i}
            x={x(i + firstVolume) - 1.6}
            width={3.2}
            y={yVol(Math.abs(v))}
            height={yVol(0) - yVol(Math.abs(v))}
            fill={v >= 0 ? "#089981" : RED}
            opacity={0.45}
          />
        ))}
        <path d={volMaPath} fill="none" stroke={BLUE} strokeWidth={1.7} opacity={0.85} />

        <path d={priceLine(channelUpper as number[][]) as string} stroke="#000" strokeWidth={3.4} fill="none" />
        <path d={priceLine(channelLower as number[][]) as string} stroke="#000" strokeWidth={3.4} fill="none" />
        <path d={priceLine(channelMid as number[][]) as string} stroke="#222" strokeWidth={1} strokeDasharray="7 7" fill="none" />

        <rect
          x={x(zoneBars[0])}
          y={y(zonePrices[0])}
          width={x(zoneBars[1]) - x(zoneBars[0])}
          height={y(zonePrices[1]) - y(zonePrices[0])}
          fill="#ff9800"
          fillOpacity={0.5}
          stroke="#8a8a8a"
          strokeWidth={1}
        />
        <line x1={x(zoneBars[0])} x2={x(zoneBars[1])} y1={y(zoneMidPrice)} y2={y(zoneMidPrice)} stroke="#9c27b0" strokeWidth={1.2} strokeDasharray="6 5" />
        <line x1={x(zoneBars[0])} x2={x(zoneBars[1])} y1={y(lastPrice)} y2={y(lastPrice)} stroke="#fff" strokeWidth={1.2} strokeDasharray="1.5 2.5" />

        {closes.map((c, i) => {
          const o = i === 0 ? c : closes[i - 1];
          const cx = Math.round(x(i + firstCandle));
          const top = y(Math.max(o, c));
          const bottom = y(Math.min(o, c));
          return (
            <g key={i}>
              <line x1={cx + 0.5} x2={cx + 0.5} y1={y(highs[i])} y2={y(lows[i])} stroke="#000" strokeWidth={1} />
              <rect
                x={cx - 1}
                y={top}
                width={3}
                height={Math.max(bottom - top, 1)}
                fill={c >= o ? "#fff" : "#000"}
                stroke="#000"
                strokeWidth={1}
              />
            </g>
          );
        })}

        {redLevels.map((l) => (
          <line key={l.price} x1={x(l.from)} x2={RIGHT} y1={y(l.price)} y2={y(l.price)} stroke={RED} strokeWidth={3} />
        ))}
        <path d={priceLine(orangeLeg as number[][]) as string} stroke="#ff9800" strokeWidth={3.4} fill="none" />
        <path d={priceLine(blueLegs as number[][]) as string} stroke={BLUE} strokeWidth={3.4} fill="none" strokeLinejoin="miter" />
        <path d={priceLine(blueArrowHead as number[][]) as string} stroke={BLUE} strokeWidth={3.4} fill="none" />
        <path d={priceLine(greenLeg as number[][]) as string} stroke="#089981" strokeWidth={3.4} fill="none" />
      </g>

      <text x={27.5} y={70} fontSize={17} fill={TEXT} textLength={757} lengthAdjust="spacingAndGlyphs" style={{ whiteSpace: "pre" }}>
        {"ENA / TetherUS · 15 · Binance  开=0.1472  高=0.1481  低=0.1469  收=0.1480  +0.0008 (+0.54%)"}
      </text>

      {/* rsi pane */}
      <rect x={LEFT} y={yRsi(70)} width={RIGHT - LEFT} height={yRsi(30) - yRsi(70)} fill="#2196f3" fillOpacity={0.1} />
      {rsiBands.map((b) => (
        <line key={b} x1={LEFT} x2={RIGHT} y1={yRsi(b)} y2={yRsi(b)} stroke="#787b86" strokeWidth={1} strokeDasharray="1.5 2.5" />
      ))}
      <g clipPath="url(#rsi)">
        <path d={rsiPath} fill="none" stroke={BLUE} strokeWidth={2.6} strokeLinejoin="round" />
        {divergences.map((d, i) => {
          const bear = d.text === "Bear";
          const fill = bear ? RED : "#4caf50";
          const bw = bear ? 55 : 49;
          const cx = x(d.bar);
          const cy = yRsi(d.rsi);
          const tip = bear ? cy + 18 : cy - 18;
          const base = bear ? cy + 13 : cy - 13;
          return (
            <g key={i}>
              <path d={rsiSegment(d.line as number[][]) as string} stroke={fill} strokeWidth={2.6} fill="none" />
              <rect x={cx - bw / 2} y={cy - 13.5} width={bw} height={27} rx={3} fill={fill} />
              <polygon points={`${cx - 5},${base} ${cx + 5},${base} ${cx},${tip}`} fill={fill} />
              <text x={cx} y={cy} fontSize={16} fill="#fff" textAnchor="middle" dominantBaseline="central">{d.text}</text>
            </g>
          );
        })}
      </g>

      {/* price axis */}
      {priceTicks.map((p, i) => (
        <text key={p} x={AXIS_TEXT_X} y={y(p)} fontSize={18} fill={TEXT} dominantBaseline="central">{priceTickLabels[i]}</text>
      ))}
      <rect x={3050} y={47} width={69} height={38} rx={6} fill="#fff" stroke={GRID} strokeWidth={2} />
      <text x={3084.5} y={66} fontSize={17} fill={TEXT} textAnchor="middle" dominantBaseline="central">USDT</text>

      <rect x={2979} y={369} width={141} height={27} fill="#e3effd" rx={2} />
      <text x={2985} y={382.5} fontSize={17} fill={TEXT} dominantBaseline="central">最高价</text>
      <text x={AXIS_TEXT_X} y={382.5} fontSize={18} fill={TEXT} dominantBaseline="central">0.1835</text>
      {priceBadges.map((b) => (
        <g key={b.text}>
          <rect x={3046} y={b.top} width={74} height={b.bottom - b.top} rx={2} fill={b.fill} />
          <text x={AXIS_TEXT_X} y={(b.top + b.bottom) / 2} fontSize={18} fill={b.color} dominantBaseline="central">{b.text}</text>
        </g>
      ))}

      <rect x={2960} y={1162} width={84} height={26} fill="#fff" />
      <text x={2966} y={1175} fontSize={17} fill={TEXT} dominantBaseline="central">ENAUSDT</text>
      <rect x={3046} y={1162} width={74} height={46} fill="#fff" />
      <text x={AXIS_TEXT_X} y={1175} fontSize={18} fill={TEXT} dominantBaseline="central">0.1480</text>
      <text x={AXIS_TEXT_X} y={1196} fontSize={17} fill="#787b86" dominantBaseline="central">10:23</text>
      <rect x={3046} y={1209} width={74} height={26} rx={2} fill={RED} />
      <text x={AXIS_TEXT_X} y={1222} fontSize={18} fill="#fff" dominantBaseline="central">0.1464</text>

      <rect x={3046} y={1553} width={71} height={29} rx={2} fill={BLUE} />
      <text x={AXIS_TEXT_X} y={1567.5} fontSize={18} fill="#fff" dominantBaseline="central">2.69 M</text>
      <line x1={3046} x2={3117} y1={1581} y2={1581} stroke="#089981" strokeWidth={2} />

      {rsiTicks.map((t) => (
        <text key={t} x={AXIS_TEXT_X} y={yRsi(t)} fontSize={18} fill={TEXT} dominantBaseline="central">{t.toFixed(2)}</text>
      ))}
      <rect x={3046} y={1813} width={65} height={27} rx={2} fill={BLUE} />
      <text x={AXIS_TEXT_X} y={1826.5} fontSize={18} fill="#fff" dominantBaseline="central">38.54</text>

      {/* time axis */}
      <g clipPath="url(#time)">
        {timeLabels.map((t, i) => (
          <text key={i} x={x(i * 24)} y={1942} fontSize={18} fill={TEXT} textAnchor="middle" dominantBaseline="central">{t}</text>
        ))}
      </g>

      {/* logo */}
      <g fill="#131722">
        <rect x={18} y={1995} width={18} height={12} />
        <rect x={27} y={1995} width={9} height={28} />
        <circle cx={45} cy={2001} r={5.5} />
        <polygon points="50,1995 62,1995 52,2023 41,2023" />
      </g>
      <text x={73} y={2018} fontSize={33} fontWeight={600} fill="#131722" textLength={182} lengthAdjust="spacingAndGlyphs">TradingView</text>

      {/* watermark */}
      <g fill="none" stroke="#cfcfcf" strokeWidth={2}>
        <polygon points="2968,2010 2983,2027 2968,2042 2953,2027" />
        <polygon points="2968,2018 2975,2027 2968,2034 2961,2027" />
      </g>
      <text x={2988} y={2038} fontSize={29} fill="#c4c4c4" textLength={146} lengthAdjust="spacingAndGlyphs">@ 潇潇冷兵器</text>
    </svg>
  );
}
